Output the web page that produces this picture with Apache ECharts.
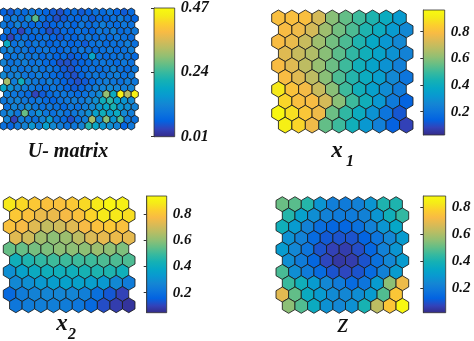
<!DOCTYPE html>
<html><head><meta charset="utf-8">
<script src="https://cdn.jsdelivr.net/npm/echarts@6/dist/echarts.min.js"></script>
<style>html,body{margin:0;padding:0;background:#fff}#c{width:474px;height:341px}</style>
</head><body><div id="c"></div>
<script>
// ---------- data (row 0 = top row, odd rows shifted right) ----------
const uMatrix = [
 [.07,.06,.09,.08,.10,.09,.07,.06,.05,.07,.08,.06,.07,.09,.08,.10,.07,.06,.08],
 [.09,.11,.08,.13,.26,.09,.07,.05,.06,.08,.07,.09,.06,.08,.07,.09,.11,.08,.07],
 [.10,.08,.12,.09,.07,.08,.06,.07,.08,.09,.07,.10,.08,.09,.11,.09,.08,.10,.09],
 [.09,.07,.04,.08,.09,.07,.05,.06,.08,.07,.09,.08,.07,.10,.09,.11,.08,.09,.10],
 [.07,.04,.08,.09,.07,.08,.09,.07,.06,.08,.07,.09,.10,.08,.09,.08,.10,.09,.08],
 [.19,.09,.11,.08,.10,.09,.07,.08,.09,.07,.08,.06,.09,.10,.08,.09,.09,.11,.09],
 [.11,.12,.09,.10,.08,.09,.10,.08,.07,.09,.08,.10,.09,.08,.09,.10,.08,.09,.11],
 [.09,.10,.11,.09,.10,.08,.09,.07,.08,.06,.07,.08,.18,.09,.08,.09,.10,.09,.08],
 [.12,.09,.10,.11,.09,.10,.08,.07,.05,.05,.06,.07,.08,.09,.10,.09,.08,.10,.09],
 [.10,.11,.09,.10,.11,.09,.10,.08,.06,.05,.07,.08,.09,.08,.09,.11,.09,.08,.10],
 [.13,.11,.12,.10,.09,.11,.09,.08,.07,.06,.05,.07,.09,.10,.09,.10,.11,.09,.10],
 [.31,.11,.20,.12,.10,.09,.11,.09,.07,.06,.05,.06,.08,.10,.11,.10,.09,.11,.10],
 [.18,.14,.12,.11,.10,.09,.08,.10,.09,.07,.06,.07,.09,.11,.12,.13,.12,.11,.12],
 [.11,.10,.09,.08,.04,.06,.08,.09,.10,.09,.08,.09,.11,.13,.30,.19,.45,.33,.45],
 [.10,.11,.12,.10,.09,.10,.08,.07,.09,.10,.11,.10,.12,.14,.20,.23,.17,.15,.13],
 [.09,.12,.11,.13,.10,.09,.10,.09,.08,.10,.09,.11,.13,.15,.18,.21,.15,.14,.12],
 [.11,.13,.10,.27,.11,.14,.10,.09,.11,.09,.10,.12,.14,.17,.20,.16,.19,.13,.11],
 [.12,.04,.11,.10,.09,.12,.16,.09,.08,.05,.09,.11,.31,.13,.29,.15,.25,.10,.09],
 [.09,.07,.10,.12,.15,.11,.17,.13,.11,.09,.10,.12,.22,.18,.15,.14,.12,.07,.10]
];
const x1Values = [
 [.80,.80,.80,.72,.60,.55,.50,.45,.40,.33],
 [.79,.77,.72,.63,.57,.52,.45,.40,.33,.27],
 [.79,.76,.70,.63,.57,.52,.45,.38,.32,.27],
 [.74,.70,.66,.60,.54,.48,.42,.36,.30,.25],
 [.79,.74,.68,.62,.56,.50,.42,.36,.30,.24],
 [.79,.74,.68,.60,.52,.46,.40,.34,.27,.20],
 [.90,.81,.78,.70,.60,.50,.42,.35,.28,.22],
 [.86,.80,.79,.72,.60,.50,.42,.32,.22,.15],
 [.95,.88,.82,.77,.56,.48,.40,.30,.20,.12],
 [.92,.86,.77,.55,.50,.42,.32,.24,.14,.08]
];
const x2Values = [
 [.88,.85,.81,.79,.79,.81,.85,.88,.92,.90],
 [.81,.79,.75,.75,.77,.79,.84,.88,.88,.86],
 [.79,.77,.73,.68,.70,.73,.77,.79,.81,.79],
 [.73,.70,.63,.60,.62,.67,.72,.74,.75,.74],
 [.55,.55,.57,.58,.60,.60,.60,.62,.60,.58],
 [.42,.45,.48,.50,.50,.50,.50,.52,.52,.52],
 [.30,.36,.40,.42,.42,.42,.44,.45,.45,.42],
 [.28,.30,.33,.35,.36,.36,.35,.33,.28,.24],
 [.18,.24,.26,.27,.27,.27,.25,.20,.14,.10],
 [.22,.24,.25,.25,.24,.22,.18,.12,.09,.07]
];
const zValues = [
 [.51,.49,.42,.28,.21,.20,.22,.28,.41,.41],
 [.42,.32,.26,.22,.20,.20,.22,.28,.38,.44],
 [.38,.30,.22,.16,.14,.14,.17,.22,.28,.34],
 [.27,.22,.15,.11,.10,.10,.13,.18,.24,.30],
 [.30,.24,.18,.10,.07,.06,.09,.14,.22,.28],
 [.26,.20,.14,.08,.05,.06,.10,.17,.24,.30],
 [.47,.26,.20,.15,.10,.08,.10,.15,.22,.30],
 [.45,.38,.30,.24,.20,.15,.18,.30,.55,.70],
 [.68,.50,.36,.30,.25,.24,.26,.30,.48,.75],
 [.55,.48,.36,.27,.24,.27,.40,.62,.75,.87]
];
const uRange = [0.01, 0.47];
const x1Range = [0.025, 0.963];
const x2Range = [0.047, 0.94];
const zRange = [0.02, 0.88];
const uTicks = [0.01, 0.24, 0.47];
const compTicks = [0.2, 0.4, 0.6, 0.8];
const parulaStops = ['#352A87','#3243BA','#0363E1','#0D75DC','#1485D4','#0998D1','#06A7C6','#15B1B4',
  '#38B99E','#65BE86','#92BF73','#B7BD64','#D9BA56','#F8BB44','#FCCE2E','#F5EB18','#F9FB0E'];

// ---------- layout ----------
const FONT = 'Liberation Serif';
const panels = [
  {vals: uMatrix, range: uRange, ticks: uTicks, dec: 2, fs: 16,
   map: {left: -0.5, top: 8, width: 138.8, height: 122}, bar: {left: 154, top: 6, width: 20.7, height: 130.7}},
  {vals: x1Values, range: x1Range, ticks: compTicks, dec: 1, fs: 15,
   map: {left: 271.7, top: 10, width: 141.3, height: 123}, bar: {left: 423.3, top: 10, width: 21.4, height: 125}},
  {vals: x2Values, range: x2Range, ticks: compTicks, dec: 1, fs: 15,
   map: {left: 3.3, top: 196.7, width: 131.7, height: 116}, bar: {left: 146.7, top: 196, width: 20, height: 116.7}},
  {vals: zValues, range: zRange, ticks: compTicks, dec: 1, fs: 15,
   map: {left: 276, top: 196.7, width: 132.7, height: 116.6}, bar: {left: 423.3, top: 196, width: 22.4, height: 116.7}}
];

function hexRender(params, api) {
  const c = api.coord([api.value(0), api.value(1)]);
  const s = api.size([1, 1]);
  const hw = Math.abs(s[0]) / 2, h3 = Math.abs(s[1]) / 3;
  const pts = [[c[0], c[1] - 2*h3], [c[0] + hw, c[1] - h3], [c[0] + hw, c[1] + h3],
               [c[0], c[1] + 2*h3], [c[0] - hw, c[1] + h3], [c[0] - hw, c[1] - h3]];
  return {type: 'polygon', shape: {points: pts},
          style: {fill: api.visual('color'), stroke: '#1a1a1a', lineWidth: 0.85}};
}

const grid = [], xAxis = [], yAxis = [], series = [], visualMap = [];
panels.forEach((p, i) => {
  const nr = p.vals.length, nc = p.vals[0].length;
  const data = [];
  p.vals.forEach((row, r) => row.forEach((v, c) => data.push([c + 0.5 * (r % 2), r, v])));
  const gi = grid.length;
  grid.push(Object.assign({}, p.map));
  xAxis.push({gridIndex: gi, type: 'value', min: -0.5, max: nc, show: false});
  yAxis.push({gridIndex: gi, type: 'value', min: -2/3, max: nr - 1 + 2/3, inverse: true, show: false});
  const si = series.length;
  series.push({type: 'custom', xAxisIndex: gi, yAxisIndex: gi, renderItem: hexRender, clip: false,
               encode: {x: 0, y: 1}, data: data, silent: true});
  visualMap.push({type: 'continuous', show: false, seriesIndex: si, dimension: 2,
                  min: p.range[0], max: p.range[1], inRange: {color: parulaStops}});
  // colorbar
  const bi = grid.length;
  grid.push(Object.assign({}, p.bar));
  xAxis.push({gridIndex: bi, type: 'value', min: 0, max: 1, show: false});
  yAxis.push({gridIndex: bi, type: 'value', position: 'right', min: p.range[0], max: p.range[1],
    axisLine: {show: true, lineStyle: {color: '#333', width: 0.8}},
    axisTick: {show: true, inside: true, length: 3, customValues: p.ticks, lineStyle: {color: '#333', width: 1}},
    splitLine: {show: false},
    axisLabel: {show: true, customValues: p.ticks, showMinLabel: true, showMaxLabel: true, margin: 6,
      formatter: v => Number(v).toFixed(p.dec),
      fontFamily: FONT, fontStyle: 'italic', fontWeight: 'bold', fontSize: p.fs, color: '#111'}});
  const rng = p.range;
  series.push({type: 'custom', xAxisIndex: bi, yAxisIndex: bi, clip: false, silent: true, data: [[0]],
    renderItem: (params, api) => {
      const a = api.coord([0, rng[1]]), b = api.coord([1, rng[0]]);
      const stops = parulaStops.map((col, k) => ({offset: 1 - k / (parulaStops.length - 1), color: col})).reverse();
      return {type: 'rect', shape: {x: a[0], y: a[1], width: b[0] - a[0], height: b[1] - a[1]},
        style: {fill: new echarts.graphic.LinearGradient(0, 0, 0, 1, stops), stroke: '#333', lineWidth: 0.8}};
    }});
});

const labelStyle = (fs, weight) => ({fontFamily: FONT, fontStyle: 'italic', fontWeight: weight || 'bold', fontSize: fs, fill: '#111'});
const graphic = [
  {type: 'text', x: 68, y: 152, style: Object.assign({text: 'U- matrix', textAlign: 'center', textVerticalAlign: 'middle'}, labelStyle(20))},
  {type: 'text', x: 337, y: 151, style: Object.assign({text: 'x', textAlign: 'center', textVerticalAlign: 'middle'}, labelStyle(23))},
  {type: 'text', x: 350, y: 162, style: Object.assign({text: '1', textAlign: 'center', textVerticalAlign: 'middle'}, labelStyle(16))},
  {type: 'text', x: 62, y: 324, style: Object.assign({text: 'x', textAlign: 'center', textVerticalAlign: 'middle'}, labelStyle(23))},
  {type: 'text', x: 72, y: 335, style: Object.assign({text: '2', textAlign: 'center', textVerticalAlign: 'middle'}, labelStyle(16))},
  {type: 'text', x: 343, y: 325, style: Object.assign({text: 'z', textAlign: 'center', textVerticalAlign: 'middle'}, labelStyle(28, 'normal'))}
];

const chart = echarts.init(document.getElementById('c'), null, {renderer: 'canvas'});
chart.setOption({animation: false, backgroundColor: '#fff', grid, xAxis, yAxis, series, visualMap, graphic});
</script></body></html>
